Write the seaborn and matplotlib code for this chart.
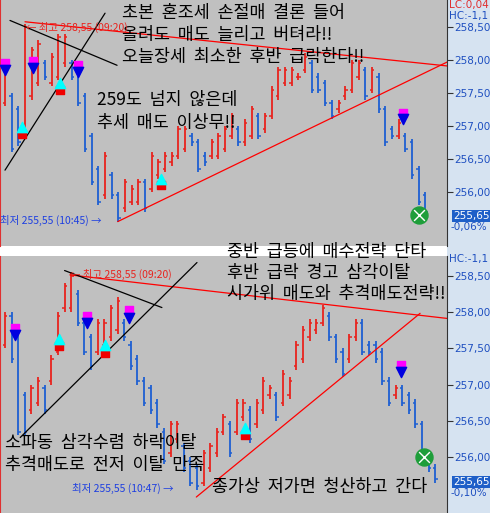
import matplotlib
matplotlib.use("Agg")
import matplotlib.pyplot as plt
import numpy as np
import seaborn as sns

sns.set_style("white")
plt.rcParams['font.family'] = ['Noto Sans CJK KR', 'DejaVu Sans']

W, H = 490, 513

# DATA (bar highs / lows)
top_high = [257.9, 257.5, 257.3, 258.55, 258.2, 258.3, 258.0, 258.1, 258.4, 258.4, 258.0, 257.9,
            257.5, 256.9, 256.4, 256.6, 256.3, 256.0, 256.2, 256.1, 256.2, 256.2, 256.6, 256.5,
            256.6, 256.6, 257.0, 257.0, 256.9, 256.8, 256.6, 256.8, 256.9, 257.0, 257.2, 257.0,
            257.1, 257.3, 257.2, 257.2, 257.6, 257.9, 257.9, 257.9, 257.8, 258.1, 258.0, 257.8,
            257.7, 257.4, 257.4, 257.6, 258.0, 258.0, 257.9, 257.9, 257.8, 257.3, 257.0, 257.1,
            256.9, 256.8, 256.4, 256.0]
top_low = [257.3, 256.6, 256.7, 256.9, 257.4, 257.6, 257.7, 257.6, 257.7, 257.9, 257.7, 257.3,
           256.6, 256.1, 255.8, 255.9, 255.9, 255.55, 255.7, 255.8, 255.8, 255.7, 256.0, 256.2,
           256.3, 256.4, 256.5, 256.6, 256.7, 256.3, 256.4, 256.5, 256.5, 256.6, 256.8, 256.7,
           256.7, 256.8, 256.8, 256.9, 257.1, 257.4, 257.6, 257.6, 257.7, 257.8, 257.5, 257.5,
           257.3, 257.1, 257.2, 257.4, 257.5, 257.7, 257.4, 257.5, 257.2, 256.7, 256.8, 256.8,
           256.6, 256.2, 255.8, 255.65]

bot_high = [258.0, 258.0, 257.7, 256.9, 257.0, 257.1, 257.0, 257.4, 258.0, 258.4, 258.55, 258.3,
            257.9, 257.7, 257.9, 257.9, 258.1, 258.2, 257.9, 257.6, 257.4, 257.1, 257.0, 256.8,
            256.4, 256.5, 256.5, 256.2, 256.0, 255.9, 256.1, 256.2, 256.4, 256.6, 256.5, 256.8,
            256.8, 256.7, 256.8, 257.1, 257.0, 256.9, 257.2, 257.1, 257.6, 257.8, 257.9, 257.9,
            258.1, 258.0, 257.7, 257.5, 257.7, 257.9, 257.9, 257.6, 257.6, 257.5, 257.1, 257.0,
            257.0, 256.9, 256.8, 256.5, 256.0, 255.9]
bot_low = [257.5, 257.3, 256.3, 256.3, 256.6, 256.7, 256.6, 257.0, 257.4, 258.0, 258.0, 257.8,
           257.4, 257.2, 257.4, 257.5, 257.6, 257.7, 257.6, 257.2, 257.0, 256.7, 256.6, 256.4,
           255.9, 256.0, 256.2, 255.8, 255.6, 255.55, 255.6, 255.8, 256.0, 256.3, 256.0, 256.3,
           256.5, 256.2, 256.4, 256.6, 256.8, 256.5, 256.7, 256.8, 257.2, 257.3, 257.6, 257.7,
           257.8, 257.6, 257.3, 257.1, 257.3, 257.6, 257.4, 257.4, 257.3, 257.0, 256.7, 256.8,
           256.7, 256.6, 256.4, 256.0, 255.8, 255.65]

# signals: (bar index, price)
top_sell = [(0, 257.85), (4.2, 257.88), (11, 257.82), (59.7, 257.1)]
top_buy = [(2.5, 256.98), (8.3, 257.65), (23.4, 256.2)]
top_exit = (62, 255.65)
bot_sell = [(1.5, 257.68), (12.4, 257.85), (18.7, 257.92), (59.8, 257.17)]
bot_buy = [(8.2, 257.63), (15.1, 257.54), (36.2, 256.4)]
bot_exit = (63.3, 256.0)

# trend lines (bar index, price)
top_lines = [((16.9, 255.55), (66.3, 257.97), 'red'), ((3, 258.58), (66.3, 257.91), 'red'),
             ((0, 256.33), (15, 258.71), 'black'), ((0.75, 258.6), (16.8, 257.92), 'black')]
bot_lines = [((28.9, 255.45), (62.7, 257.98), 'red'), ((9.8, 258.51), (66.8, 257.91), 'red'),
             ((2.3, 256.27), (29, 258.68), 'black'), ((9, 258.57), (23.7, 258.06), 'black')]

price_ticks = [256.0, 256.5, 257.0, 257.5, 258.0, 258.5]

BG = '#C0C0C0'
fig = plt.figure(figsize=(W / 100, H / 100), dpi=100)
fig.patch.set_facecolor('white')
# light blue price-axis strip
fig.patches.append(plt.Rectangle((447 / W, 0), 43 / W, 1, transform=fig.transFigure,
                                 facecolor='#D6E3F1', edgecolor='none', zorder=-5))


def draw_panel(ax, highs, lows, sells, buys, exitp, lines, ylim, x0, dx):
    ax.set_facecolor(BG)
    n = len(highs)
    xs = np.arange(n)
    mids = (np.array(highs) + np.array(lows)) / 2
    for i in xs:
        up = i == 0 or mids[i] >= mids[i - 1]
        c = '#E8231E' if up else '#1E5FD2'
        ax.vlines(i, lows[i], highs[i], color=c, lw=1.3)
        o, cl = (lows[i] + 0.05, highs[i] - 0.05) if up else (highs[i] - 0.05, lows[i] + 0.05)
        ax.hlines(o, i - 0.35, i, color=c, lw=1.1)
        ax.hlines(cl, i, i + 0.35, color=c, lw=1.1)
    for (a, b, c) in lines:
        ax.plot([a[0], b[0]], [a[1], b[1]], color=c, lw=0.9)
    for (i, p) in sells:
        ax.scatter(i, p + 0.1, marker='s', s=30, color='#FF00FF', zorder=5)
        ax.scatter(i, p, marker='v', s=55, color='#0000E0', zorder=6)
    for (i, p) in buys:
        ax.scatter(i, p - 0.1, marker='s', s=30, color='#F00000', zorder=5)
        ax.scatter(i, p, marker='^', s=55, color='#00FFFF', zorder=6)
    ax.scatter(*exitp, marker='o', s=150, color='#1E9E3A', zorder=6)
    ax.scatter(*exitp, marker='x', s=60, color='white', lw=1, zorder=7)
    ax.set_xlim(-x0 / dx, -x0 / dx + 447 / dx)
    ax.set_ylim(*ylim)
    ax.set_xticks([])
    ax.yaxis.tick_right()
    ax.set_yticks(price_ticks)
    ax.set_yticklabels([f"{t:.2f}".replace('.', ',') for t in price_ticks],
                       color='#1E4FC0', fontsize=7.5, family='DejaVu Sans')
    ax.tick_params(axis='y', length=4, color='#333333', pad=1, right=True, labelright=True)
    for s in ['top', 'bottom']:
        ax.spines[s].set_visible(False)
    ax.spines['left'].set_color('#E03030')
    ax.spines['right'].set_color('#333333')


ax1 = fig.add_axes([0, (H - 246) / H, 447 / W, 246 / H])
draw_panel(ax1, top_high, top_low, top_sell, top_buy, top_exit, top_lines,
           (255.18, 258.91), 5, 6.67)
ax2 = fig.add_axes([0, 0, 447 / W, 257 / H])
draw_panel(ax2, bot_high, bot_low, bot_sell, bot_buy, bot_exit, bot_lines,
           (255.23, 258.77), 5, 6.62)


def t(x, y, s, **kw):
    fig.text(x / W, 1 - y / H, s, va='center', **kw)


big = dict(fontsize=12.5, color='black')
t(122, 13, "초본  혼조세  손절매  결론  들어", **big)
t(122, 35, "올려도  매도  늘리고  버텨라!!", **big)
t(122, 57, "오늘장세  최소한  후반  급락한다!!", **big)
t(97, 100, "259도  넘지  않은데", **big)
t(97, 123, "추세  매도  이상무!!", **big)
t(227, 252, "중반  급등에  매수전략  단타", **big)
t(227, 273, "후반  급락  경고  삼각이탈", **big)
t(227, 294, "시가위  매도와  추격매도전략!!", **big)
t(5, 443, "소파동  삼각수렴  하락이탈", **big)
t(5, 465, "추격매도로  전저  이탈  만족", **big)
t(212, 487, "종가상  저가면  청산하고  간다", **big)

small = dict(fontsize=7.5)
t(26, 27, "← 최고 258,55 (09:20)", color='#E8231E', **small)
t(0, 220, "최저 255,55 (10:45) →", color='#1E3FE0', **small)
t(70, 274, "← 최고 258,55 (09:20)", color='#E8231E', **small)
t(72, 488, "최저 255,55 (10:47) →", color='#1E3FE0', **small)

side = dict(fontsize=7.5, family='DejaVu Sans')
t(449, 5, "LC:0,04", color='#E03030', **side)
t(449, 16, "HC:-1,1", color='#1E4FC0', **side)
t(449, 259, "HC:-1,1", color='#1E4FC0', **side)
box = dict(boxstyle='square,pad=0.1', facecolor='#1E5FC8', edgecolor='none')
t(453, 216, "255,65", color='white', fontsize=7.5, family='DejaVu Sans', bbox=box)
t(450, 227, "-0,06%", color='#1E4FC0', **side)
t(453, 482, "255,65", color='white', fontsize=7.5, family='DejaVu Sans', bbox=box)
t(450, 493, "-0,10%", color='#1E4FC0', **side)

fig.savefig("out.png", dpi=100, facecolor=fig.get_facecolor())
